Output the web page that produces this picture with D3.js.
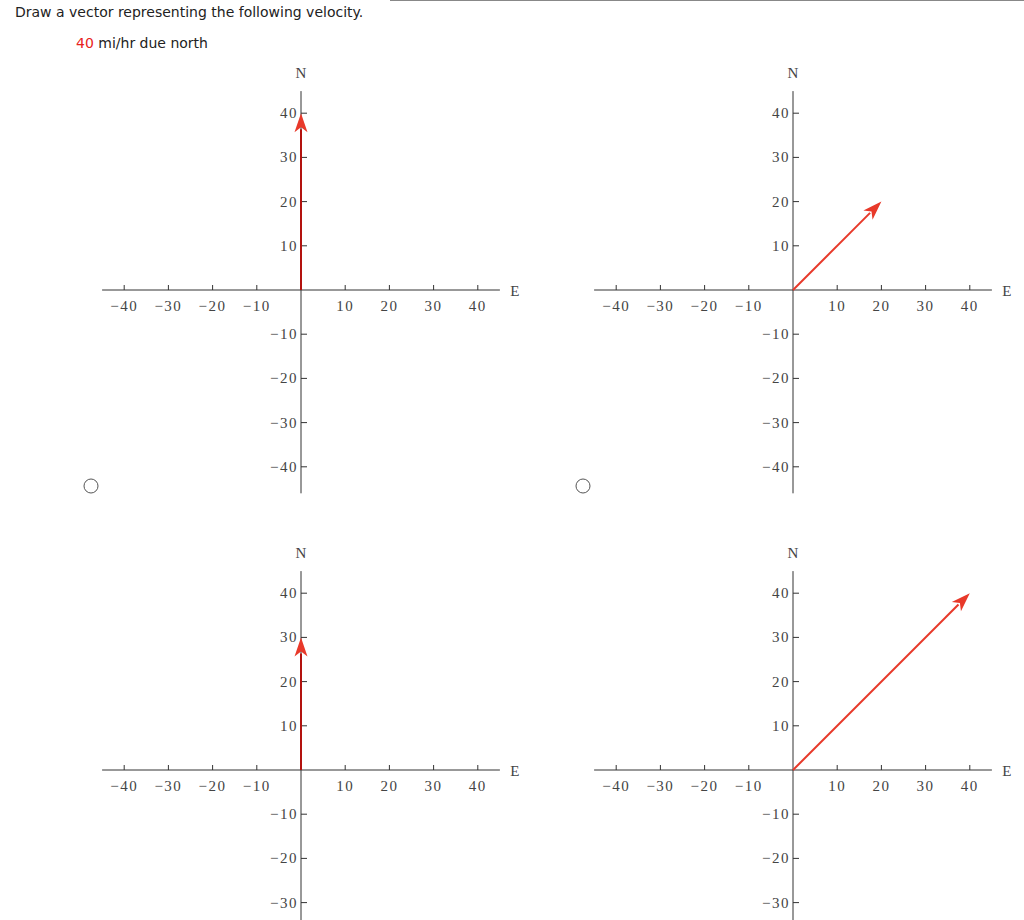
<!DOCTYPE html>
<html><head><meta charset="utf-8">
<script src="https://cdn.jsdelivr.net/npm/d3@7"></script>
<style>body{margin:0;background:#fff;}</style>
</head><body>
<svg id="c" width="1024" height="920"></svg>
<script>
const ticks = [-40,-30,-20,-10,10,20,30,40];
const panels = [
  {ox:301, oy:290, vec:[0,40], radio:[91,486], shaft:"#b3120e"},
  {ox:793, oy:290, vec:[20,20], radio:[583,486], shaft:"#e8392a"},
  {ox:301, oy:770, vec:[0,30], radio:null, shaft:"#b3120e"},
  {ox:793, oy:770, vec:[40,40], radio:null, shaft:"#e8392a"}
];
const svg = d3.select("#c");
svg.append("line").attr("x1",390).attr("x2",1024).attr("y1",0.5).attr("y2",0.5).attr("stroke","#888");
svg.append("text").attr("x",15).attr("y",17).attr("font-family","DejaVu Sans, Verdana").attr("font-size",14).attr("fill","#222").text("Draw a vector representing the following velocity.");
const t2 = svg.append("text").attr("x",76).attr("y",48).attr("font-family","DejaVu Sans, Verdana").attr("font-size",14).attr("fill","#222");
t2.append("tspan").attr("fill","#e8221b").text("40");
t2.append("tspan").text(" mi/hr due north");
const fmt = d => d<0 ? "\u2212"+Math.abs(d) : ""+d;
const ppu = 4.42;
panels.forEach(p=>{
  const x = d3.scaleLinear().domain([-45,45]).range([p.ox-45*ppu, p.ox+45*ppu]);
  const y = d3.scaleLinear().domain([-45,45]).range([p.oy+45*ppu, p.oy-45*ppu]);
  const g = svg.append("g").attr("font-family","Liberation Serif, Times New Roman, serif").attr("font-size",15).attr("fill","#444");
  g.append("line").attr("x1",x(-45)).attr("x2",x(45)).attr("y1",p.oy).attr("y2",p.oy).attr("stroke","#333");
  g.append("line").attr("x1",p.ox).attr("x2",p.ox).attr("y1",y(45)).attr("y2",Math.min(y(-46),920)).attr("stroke","#333");
  ticks.forEach(t=>{
    g.append("line").attr("x1",x(t)).attr("x2",x(t)).attr("y1",p.oy).attr("y2",p.oy-5).attr("stroke","#333");
    g.append("text").attr("x",x(t)).attr("y",p.oy+21).attr("text-anchor","middle").attr("letter-spacing",1.5).text(fmt(t));
    g.append("line").attr("x1",p.ox).attr("x2",p.ox+6).attr("y1",y(t)).attr("y2",y(t)).attr("stroke","#333");
    g.append("text").attr("x",p.ox-3).attr("y",y(t)+5).attr("text-anchor","end").attr("letter-spacing",1.5).text(fmt(t));
  });
  g.append("text").attr("x",x(45)+15).attr("y",p.oy+6).attr("text-anchor","middle").text("E");
  g.append("text").attr("x",p.ox).attr("y",y(45)-13).attr("text-anchor","middle").text("N");
  const x0=x(0), y0=y(0), x1=x(p.vec[0]), y1=y(p.vec[1]);
  const ang = Math.atan2(y1-y0, x1-x0);
  const L=19, W=6.5;
  const bx = x1 - L*Math.cos(ang), by = y1 - L*Math.sin(ang);
  svg.append("line").attr("x1",x0).attr("y1",y0).attr("x2",bx+3*Math.cos(ang)).attr("y2",by+3*Math.sin(ang)).attr("stroke",p.shaft).attr("stroke-width",2);
  const nx=-Math.sin(ang), ny=Math.cos(ang);
  svg.append("path").attr("d",`M${x1},${y1}L${bx+W*nx},${by+W*ny}L${bx+5*Math.cos(ang)},${by+5*Math.sin(ang)}L${bx-W*nx},${by-W*ny}Z`).attr("fill","#e8392a");
  if(p.radio) svg.append("circle").attr("cx",p.radio[0]).attr("cy",p.radio[1]).attr("r",7).attr("fill","#fff").attr("stroke","#555").attr("stroke-width",1);
});
</script>
</body></html>
